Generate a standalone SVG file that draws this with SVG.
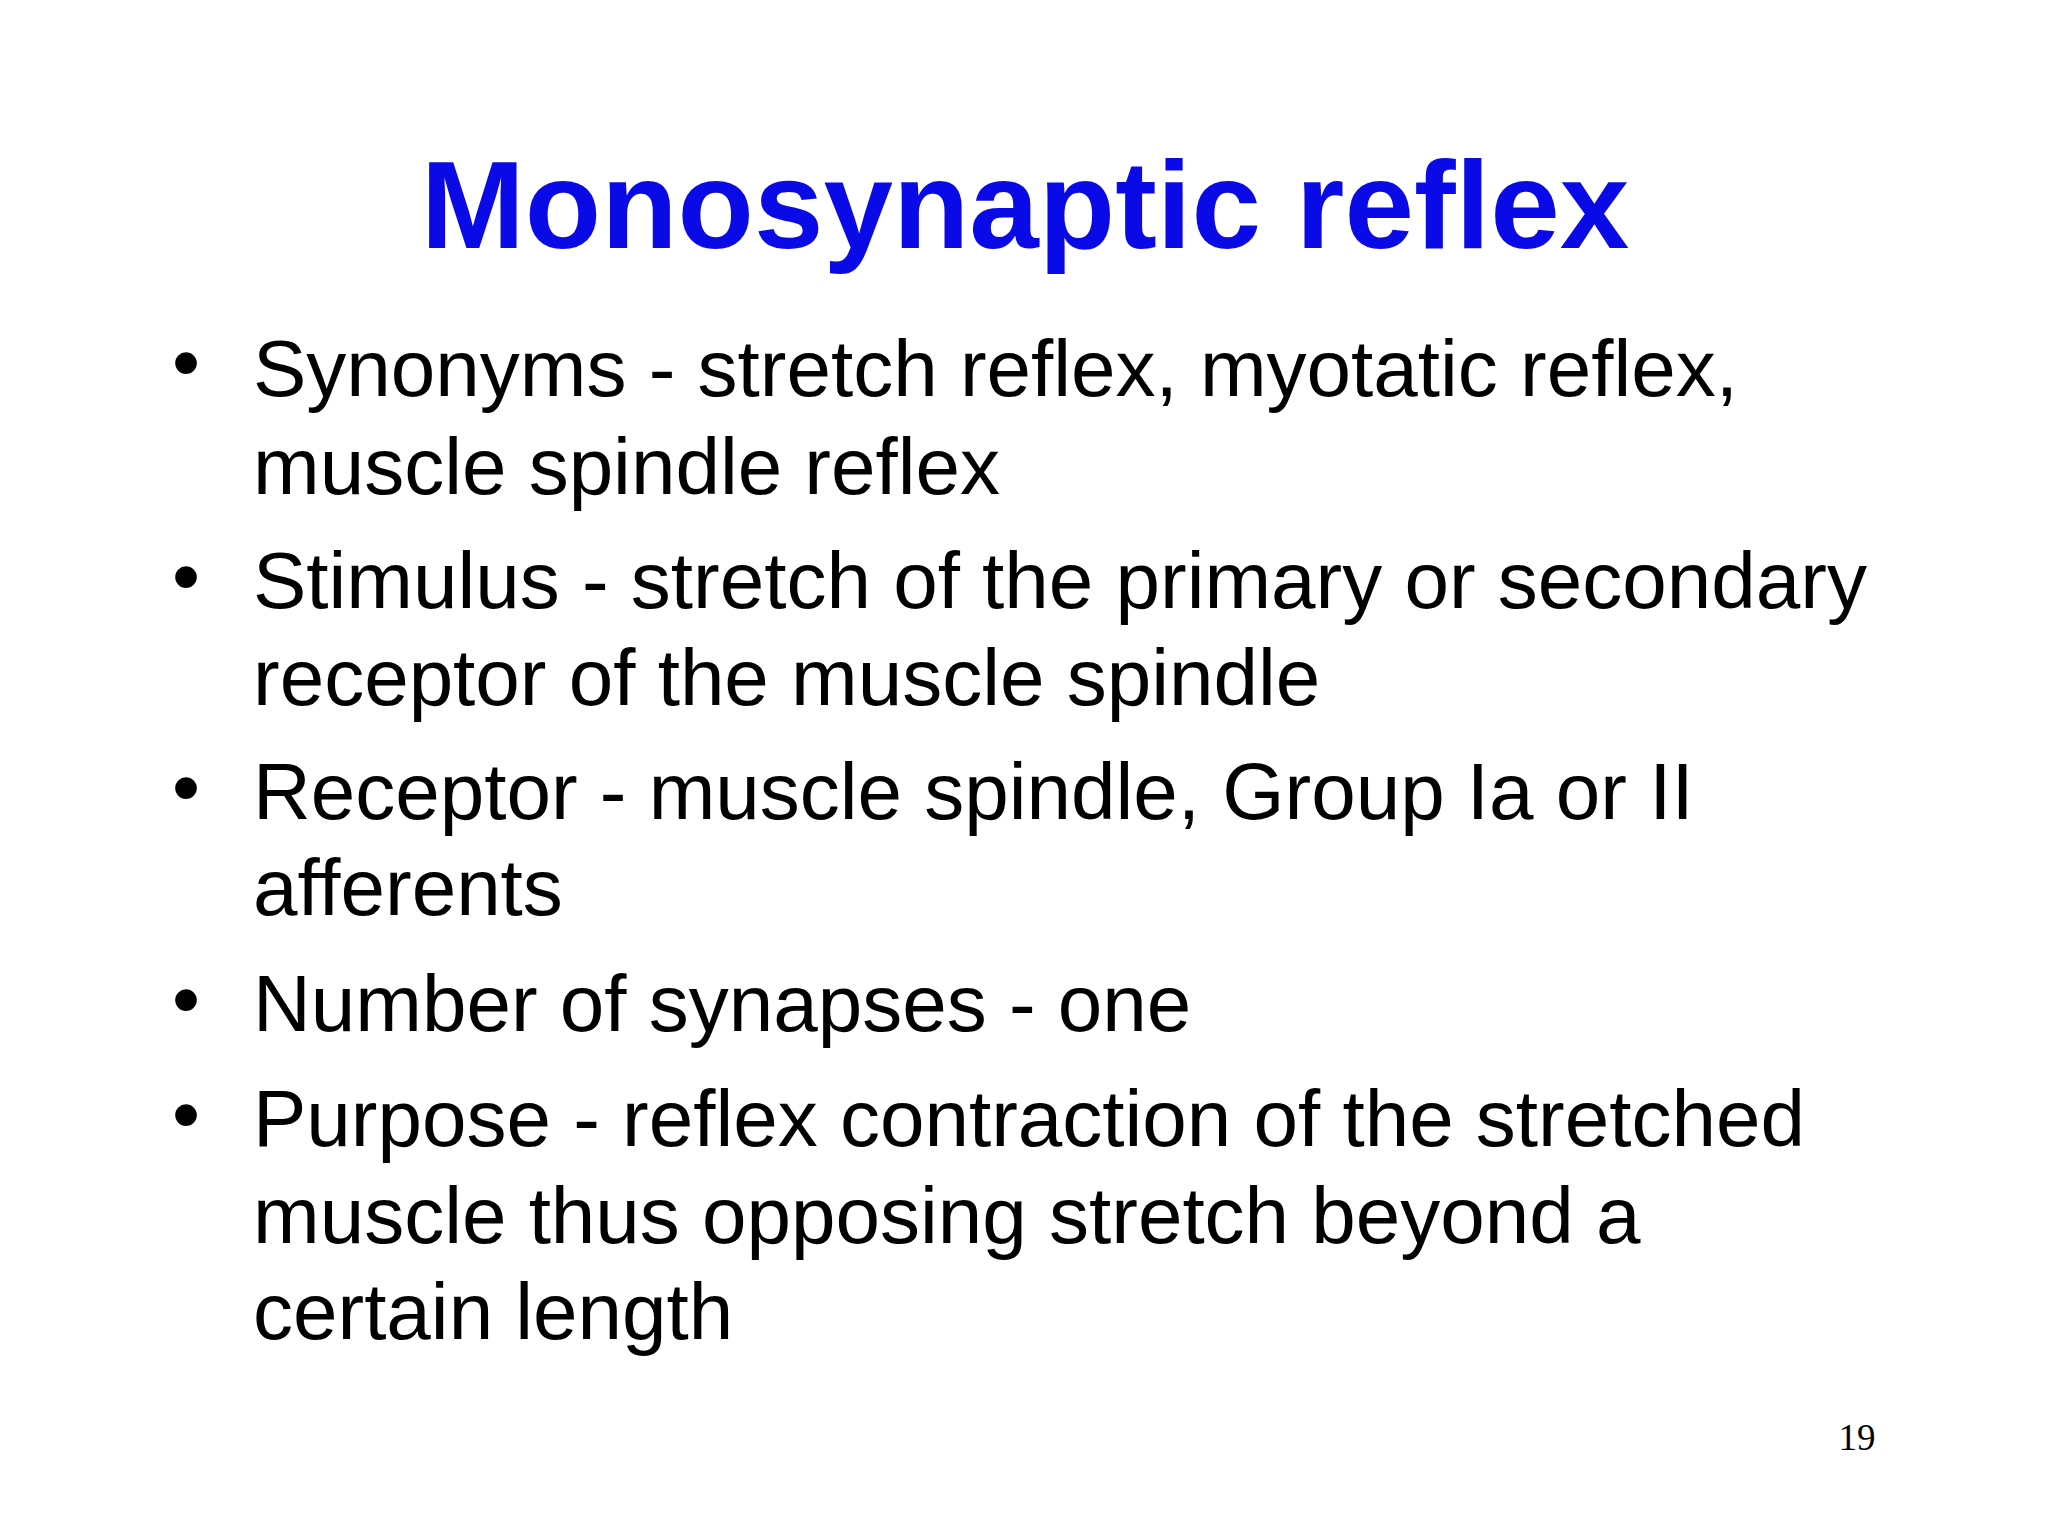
<svg xmlns="http://www.w3.org/2000/svg" width="2048" height="1536" viewBox="0 0 2048 1536">
<style>
.t{font-family:"Liberation Sans",Arial,sans-serif;font-size:80px;fill:#000}
.b{font-family:"Liberation Sans",Arial,sans-serif;font-size:80px;fill:#000}
</style>
<rect width="2048" height="1536" fill="#fff"/>
<text x="1025" y="248" text-anchor="middle" font-family="Liberation Sans, Arial, sans-serif" font-weight="bold" font-size="125" fill="#0A0AE6">Monosynaptic reflex</text>
<g id="bullets">
<text class="b" x="172" y="390">•</text>
<text class="b" x="172" y="604">•</text>
<text class="b" x="172" y="815">•</text>
<text class="b" x="172" y="1027">•</text>
<text class="b" x="172" y="1142">•</text>
</g>
<g id="text">
<text class="t" x="253" y="396">Synonyms - stretch reflex, myotatic reflex,</text>
<text class="t" x="253" y="494">muscle spindle reflex</text>
<text class="t" x="253" y="608">Stimulus - stretch of the primary or secondary</text>
<text class="t" x="253" y="705">receptor of the muscle spindle</text>
<text class="t" x="253" y="819">Receptor - muscle spindle, Group Ia or II</text>
<text class="t" x="253" y="915">afferents</text>
<text class="t" x="253" y="1031">Number of synapses - one</text>
<text class="t" x="253" y="1146">Purpose - reflex contraction of the stretched</text>
<text class="t" x="253" y="1243">muscle thus opposing stretch beyond a</text>
<text class="t" x="253" y="1339">certain length</text>
</g>
<text x="1857" y="1450" text-anchor="middle" font-family="Liberation Serif, serif" font-size="37" fill="#000">19</text>
</svg>
